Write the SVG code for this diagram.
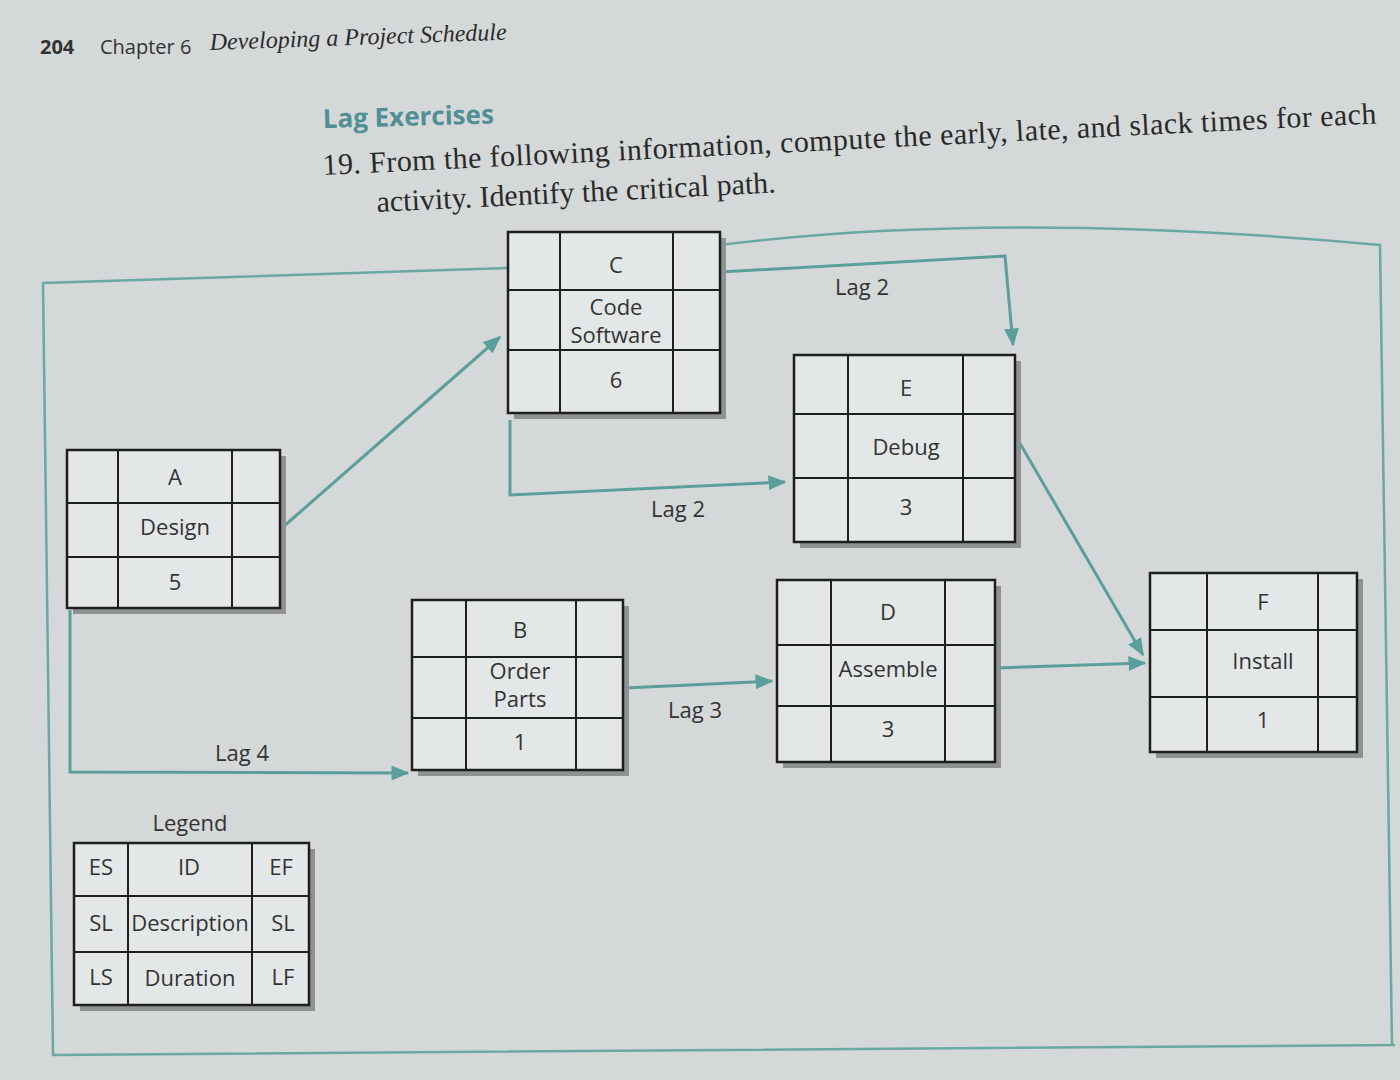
<svg xmlns="http://www.w3.org/2000/svg" width="1400" height="1080" viewBox="0 0 1400 1080">
<defs>
<style>
.g{fill:#e4e7e7;stroke:#1e1e1e;stroke-width:2.5}
.l{stroke:#1e1e1e;stroke-width:2}
.sh{fill:#8f9292}
.t{font-family:"Open Sans","Liberation Sans",sans-serif;font-size:22px;fill:#333;text-anchor:middle}
.c{fill:none;stroke:#5a9f9b;stroke-width:3}
.s{font-family:"Liberation Serif",serif;fill:#2a2a2a}
</style>
<marker id="ah" viewBox="0 0 12 10" refX="11" refY="5" markerWidth="6" markerHeight="5" orient="auto" markerUnits="strokeWidth"><path d="M0,0 L12,5 L0,10 Z" fill="#5a9f9b"/></marker>
</defs>
<rect width="1400" height="1080" fill="#d5d8d8"/>
<text x="40" y="54" style="font-family:'Open Sans',sans-serif;font-size:20px;font-weight:bold" fill="#333">204</text>
<text x="100" y="54" style="font-family:'Open Sans',sans-serif;font-size:20px" fill="#333">Chapter 6</text>
<text x="210" y="50" class="s" font-style="italic" font-size="24" transform="rotate(-2 210 50)">Developing a Project Schedule</text>
<text x="323" y="128" style="font-family:'Open Sans',sans-serif;font-size:26px;font-weight:bold" fill="#4f8f95" transform="rotate(-1.5 323 128)">Lag Exercises</text>
<text x="323" y="175" class="s" font-size="30" textLength="1055" transform="rotate(-2.8 323 175)">19. From the following information, compute the early, late, and slack times for each</text>
<text x="377" y="212" class="s" font-size="30" transform="rotate(-2.8 377 212)">activity. Identify the critical path.</text>
<g id="frame" fill="none" stroke="#6aa8a4" stroke-width="2.5">
<path d="M508,268 L43,283 L53,1055 L1395,1045"/>
<path d="M720,245 Q1000,210 1380,245 L1392,1045"/>
</g>
<g id="connectors">
<path class="c" d="M283,527 L500,337" marker-end="url(#ah)"/>
<path class="c" d="M720,272 L1005,256 L1013,345" marker-end="url(#ah)"/>
<path class="c" d="M510,420 L510,495 L785,482" marker-end="url(#ah)"/>
<path class="c" d="M70,610 L70,772 L408,773" marker-end="url(#ah)"/>
<path class="c" d="M625,688 L772,681" marker-end="url(#ah)"/>
<path class="c" d="M997,668 L1145,663" marker-end="url(#ah)"/>
<path class="c" d="M1018,440 L1143,655" marker-end="url(#ah)"/>
<text class="t" x="862" y="295">Lag 2</text>
<text class="t" x="678" y="517">Lag 2</text>
<text class="t" x="242" y="761">Lag 4</text>
<text class="t" x="695" y="718">Lag 3</text>
</g>
<g id="A"><rect class="sh" x="73" y="456" width="213" height="158"/><rect class="g" x="67" y="450" width="213" height="158"/>
<path class="l" d="M118,450V608M232,450V608M67,503H280M67,557H280"/>
<text class="t" x="175" y="485">A</text><text class="t" x="175" y="535">Design</text><text class="t" x="175" y="590">5</text></g>
<g id="C"><rect class="sh" x="514" y="238" width="212" height="181"/><rect class="g" x="508" y="232" width="212" height="181"/>
<path class="l" d="M560,232V413M673,232V413M508,290H720M508,350H720"/>
<text class="t" x="616" y="273">C</text><text class="t" x="616" y="315" font-size="21">Code</text><text class="t" x="616" y="343" font-size="21">Software</text><text class="t" x="616" y="388">6</text></g>
<g id="E"><rect class="sh" x="800" y="361" width="221" height="187"/><rect class="g" x="794" y="355" width="221" height="187"/>
<path class="l" d="M848,355V542M963,355V542M794,414H1015M794,478H1015"/>
<text class="t" x="906" y="396">E</text><text class="t" x="906" y="455">Debug</text><text class="t" x="906" y="515">3</text></g>
<g id="B"><rect class="sh" x="418" y="606" width="211" height="170"/><rect class="g" x="412" y="600" width="211" height="170"/>
<path class="l" d="M466,600V770M576,600V770M412,657H623M412,718H623"/>
<text class="t" x="520" y="638">B</text><text class="t" x="520" y="679" font-size="21">Order</text><text class="t" x="520" y="707" font-size="21">Parts</text><text class="t" x="520" y="750">1</text></g>
<g id="D"><rect class="sh" x="783" y="586" width="218" height="182"/><rect class="g" x="777" y="580" width="218" height="182"/>
<path class="l" d="M831,580V762M945,580V762M777,645H995M777,706H995"/>
<text class="t" x="888" y="620">D</text><text class="t" x="888" y="677">Assemble</text><text class="t" x="888" y="737">3</text></g>
<g id="F"><rect class="sh" x="1156" y="579" width="207" height="179"/><rect class="g" x="1150" y="573" width="207" height="179"/>
<path class="l" d="M1207,573V752M1318,573V752M1150,630H1357M1150,697H1357"/>
<text class="t" x="1263" y="610">F</text><text class="t" x="1263" y="669">Install</text><text class="t" x="1263" y="728">1</text></g>
<g id="legend"><text class="t" x="190" y="831">Legend</text>
<rect class="sh" x="80" y="849" width="235" height="162"/><rect class="g" x="74" y="843" width="235" height="162"/>
<path class="l" d="M128,843V1005M252,843V1005M74,896H309M74,952H309"/>
<text class="t" x="101" y="875">ES</text><text class="t" x="189" y="875">ID</text><text class="t" x="281" y="875">EF</text>
<text class="t" x="101" y="931">SL</text><text class="t" x="190" y="931">Description</text><text class="t" x="283" y="931">SL</text>
<text class="t" x="101" y="985">LS</text><text class="t" x="190" y="986">Duration</text><text class="t" x="283" y="985">LF</text></g>
</svg>
